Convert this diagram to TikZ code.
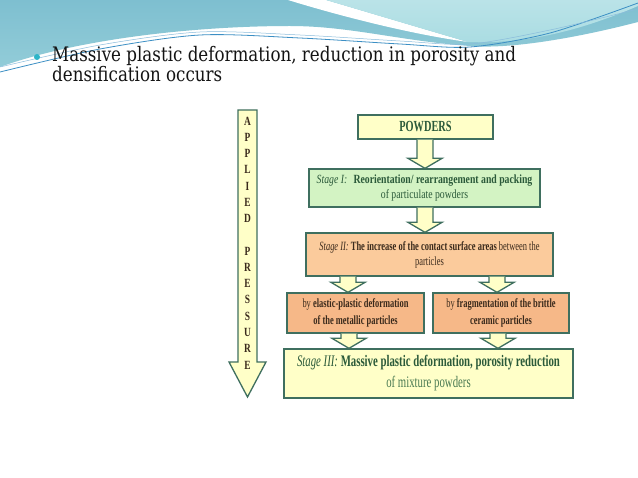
\documentclass[tikz,border=0pt]{standalone}
\usepackage{fontspec}
\setmainfont{Liberation Serif}
\newfontfamily\topfont[FakeStretch=0.836]{DejaVu Serif}
\newfontfamily\cf[FakeStretch=0.75]{Liberation Serif}
\newfontfamily\cfA[FakeStretch=0.67]{Liberation Serif}
\newfontfamily\cfB[FakeStretch=0.78]{Liberation Serif}
\usetikzlibrary{calc}
\definecolor{bordc}{HTML}{3F6F5F}
\definecolor{lyel}{HTML}{FFFFC8}
\definecolor{lgrn}{HTML}{D3F3C3}
\definecolor{peach}{HTML}{FBCB9C}
\definecolor{orng}{HTML}{F6B888}
\definecolor{dgrn}{HTML}{2B5A3A}
\definecolor{mgrn}{HTML}{4A7A52}
\definecolor{dbrn}{HTML}{3A2A1C}
\definecolor{tealA}{HTML}{7EBFD0}
\definecolor{tealAA}{HTML}{92CCD8}
\definecolor{tealB}{HTML}{A9DCE2}
\definecolor{lineblue}{HTML}{3C8FC4}
\definecolor{bulc}{HTML}{2DB5C8}
\tikzset{
  boxst/.style={draw=bordc, line width=1.3pt, inner sep=0pt, align=center},
  barrowst/.style={fill=lyel, draw=bordc, line width=1.3pt, line join=miter},
  pletter/.style={font=\cf\bfseries\fontsize{12.5}{13}\selectfont, text=dbrn, inner sep=0pt},
  toptext/.style={anchor=base west, inner sep=0pt, font=\topfont\fontsize{20}{24}\selectfont, text=black!92},
}
\newcommand\blockarr[3]{%
  \draw[barrowst] let \p1=(#2.south), \p2=(#3.north) in
    ({#1pt-8pt},\y1) -- ({#1pt-8pt},{\y2+10pt}) -- ({#1pt-17pt},{\y2+10pt}) --
    (#1pt,\y2) -- ({#1pt+17pt},{\y2+10pt}) -- ({#1pt+8pt},{\y2+10pt}) -- ({#1pt+8pt},\y1);
}
\begin{document}
\begin{tikzpicture}[x=1pt,y=-1pt]
\useasboundingbox (0,0) rectangle (638,478);
\fill[white] (0,0) rectangle (638,478);
% header decoration
\shade[top color=tealA, bottom color=tealAA] (0,0) -- (638,0) -- (638,22)
  .. controls (600,32) and (520,50) .. (470,46)
  .. controls (400,41) and (350,26) .. (290,26)
  .. controls (200,26) and (80,38) .. (0,67) -- cycle;
\fill[white] (288,0) .. controls (340,16) and (410,34) .. (468,42)
  .. controls (420,28) and (360,10) .. (326,0) -- cycle;
\shade[top color=tealB!80!white, bottom color=tealB] (326,0) .. controls (360,10) and (420,28) .. (468,42)
  .. controls (540,45) and (600,22) .. (638,6) -- (638,0) -- cycle;
\draw[lineblue, line width=0.8pt] plot[smooth] coordinates {(0,72) (100,49) (200,35) (300,38) (400,44) (470,47) (550,33) (638,3)};
\draw[lineblue!60, line width=0.5pt] plot[smooth] coordinates {(0,67) (100,45) (200,32) (300,35) (400,41) (470,44) (550,30) (638,9)};
% title text
\fill[bulc] (37,57) circle (3);
\node[toptext] (t1) at (52,62) {Massive plastic deformation, reduction in porosity and};
\node[toptext] (t2) at (52,82) {densification occurs};
% pressure arrow
\draw[barrowst] (238,110) -- (257,110) -- (257,362) -- (266,362) -- (247.5,397) -- (229,362) -- (238,362) -- cycle;
\foreach \l [count=\i] in {A,P,P,L,I,E,D}
  \node[pletter] (pa\i) at (247.5,{121+16.3*(\i-1)}) {\l};
\foreach \l [count=\i] in {P,R,E,S,S,U,R,E}
  \node[pletter] (pb\i) at (247.5,{251+16.3*(\i-1)}) {\l};
% boxes
\node[boxst, fill=lyel, minimum width=135pt, minimum height=24pt, text=dgrn,
  font=\cfA\bfseries\fontsize{15.4}{16}\selectfont] (pw) at (425.5,127) {POWDERS};
\node[boxst, fill=lgrn, minimum width=231pt, minimum height=38pt, text=dgrn,
  font=\cfB\fontsize{12.5}{15}\selectfont] (s1) at (424.5,188)
  {{\itshape Stage I:}\enspace{\bfseries Reorientation/ rearrangement and packing}\\ of particulate powders};
\node[boxst, fill=peach, minimum width=247pt, minimum height=43pt, text=dbrn,
  font=\cfA\fontsize{12.6}{15}\selectfont] (s2) at (429.5,254.5)
  {{\itshape Stage II:} {\bfseries The increase of the contact surface areas} between the\\ particles};
\node[boxst, fill=orng, minimum width=137pt, minimum height=40pt, text=dbrn,
  font=\cfA\fontsize{12.6}{17}\selectfont] (sl) at (355.5,313)
  {by {\bfseries elastic-plastic deformation}\\ {\bfseries of the metallic particles}};
\node[boxst, fill=orng, minimum width=136pt, minimum height=40pt, text=dbrn,
  font=\cfA\fontsize{12.6}{17}\selectfont] (sr) at (501,313)
  {by {\bfseries fragmentation of the brittle}\\ {\bfseries ceramic particles}};
\node[boxst, fill=lyel, minimum width=289pt, minimum height=49pt, text=dgrn,
  font=\cfA\fontsize{16.1}{21}\selectfont] (s3) at (428.5,373.5)
  {{\itshape Stage III:} {\bfseries Massive plastic deformation, porosity reduction}\\ \textcolor{mgrn}{of mixture powders}};
% block arrows
\blockarr{425}{pw}{s1}
\blockarr{425}{s1}{s2}
\blockarr{348}{s2}{sl}
\blockarr{497}{s2}{sr}
\blockarr{349}{sl}{s3}
\blockarr{498}{sr}{s3}
\end{tikzpicture}
\end{document}
